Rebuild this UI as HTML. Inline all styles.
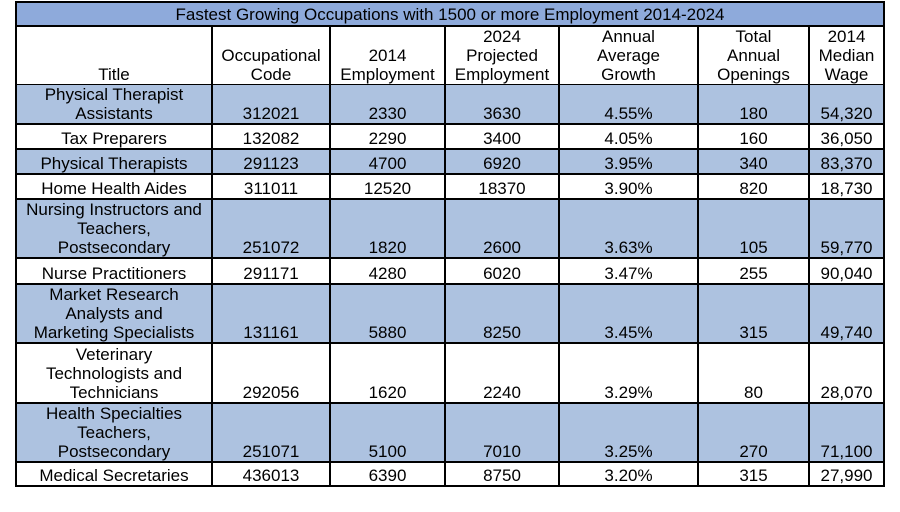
<!DOCTYPE html>
<html><head><meta charset="utf-8">
<style>
body{margin:0;width:900px;height:512px;background:#fff;position:relative;overflow:hidden;font-family:"Liberation Sans",Arial,sans-serif;font-size:17px;color:#000}
.c{position:absolute;display:flex;flex-direction:column;justify-content:flex-end;align-items:center;text-align:center;line-height:19px;padding-bottom:1px;box-sizing:border-box;white-space:nowrap}
.h{position:absolute;background:#000}
</style></head><body>
<div id="tbl"></div>
<script>
const colX=[16,212,330,445,559,698,809,884];
const rowY=[2,26,85,124,149,174,199,258,284,343,403,462,486];
const headers=["Title","Occupational<br>Code","2014<br>Employment","2024<br>Projected<br>Employment","Annual<br>Average<br>Growth","Total<br>Annual<br>Openings","2014<br>Median<br>Wage"];
const rows=[
["Physical Therapist<br>Assistants","312021","2330","3630","4.55%","180","54,320"],
["Tax Preparers","132082","2290","3400","4.05%","160","36,050"],
["Physical Therapists","291123","4700","6920","3.95%","340","83,370"],
["Home Health Aides","311011","12520","18370","3.90%","820","18,730"],
["Nursing Instructors and<br>Teachers,<br>Postsecondary","251072","1820","2600","3.63%","105","59,770"],
["Nurse Practitioners","291171","4280","6020","3.47%","255","90,040"],
["Market Research<br>Analysts and<br>Marketing Specialists","131161","5880","8250","3.45%","315","49,740"],
["Veterinary<br>Technologists and<br>Technicians","292056","1620","2240","3.29%","80","28,070"],
["Health Specialties<br>Teachers,<br>Postsecondary","251071","5100","7010","3.25%","270","71,100"],
["Medical Secretaries","436013","6390","8750","3.20%","315","27,990"]];
const colNames=["title","code","emp-2014","emp-2024","growth","openings","wage"];
const T=document.getElementById('tbl');
function cell(x,y,w,h,html,bg,name){
  const d=document.createElement('div');d.className='c';
  d.style.cssText=`left:${x}px;top:${y}px;width:${w}px;height:${h}px;background:${bg}`;
  d.innerHTML=html;
  
  
  T.appendChild(d);
}
const t=document.createElement('div');t.className='c';
t.style.cssText=`left:${colX[0]}px;top:${rowY[0]}px;width:${colX[7]-colX[0]}px;height:${rowY[1]-rowY[0]}px;background:#8eaadb;line-height:20px;padding-bottom:1px`;
t.textContent="Fastest Growing Occupations with 1500 or more Employment 2014-2024";


T.appendChild(t);
for(let j=0;j<7;j++)cell(colX[j],rowY[1],colX[j+1]-colX[j],rowY[2]-rowY[1],headers[j],'#fff','header-'+colNames[j]);
rows.forEach((r,i)=>{
  const bg=i%2==0?'#adc2e0':'#fff';
  for(let j=0;j<7;j++)cell(colX[j],rowY[i+2],colX[j+1]-colX[j],rowY[i+3]-rowY[i+2],r[j],bg,'row'+(i+1)+'-'+colNames[j]);
});
function line(x,y,w,h,name){const d=document.createElement('div');d.className='h';
  d.style.cssText=`left:${x}px;top:${y}px;width:${w}px;height:${h}px`;
  
  
  T.appendChild(d);}
rowY.forEach((y,i)=>line(colX[0]-1,y-1,colX[7]-colX[0]+2,(i==2?1:2),'row-line'));
colX.forEach((x,j)=>{const top=(j==0||j==7)?rowY[0]:rowY[1];line(x-1,top-1,2,rowY[12]-top+1,'col-line');});
</script>
</body></html>
